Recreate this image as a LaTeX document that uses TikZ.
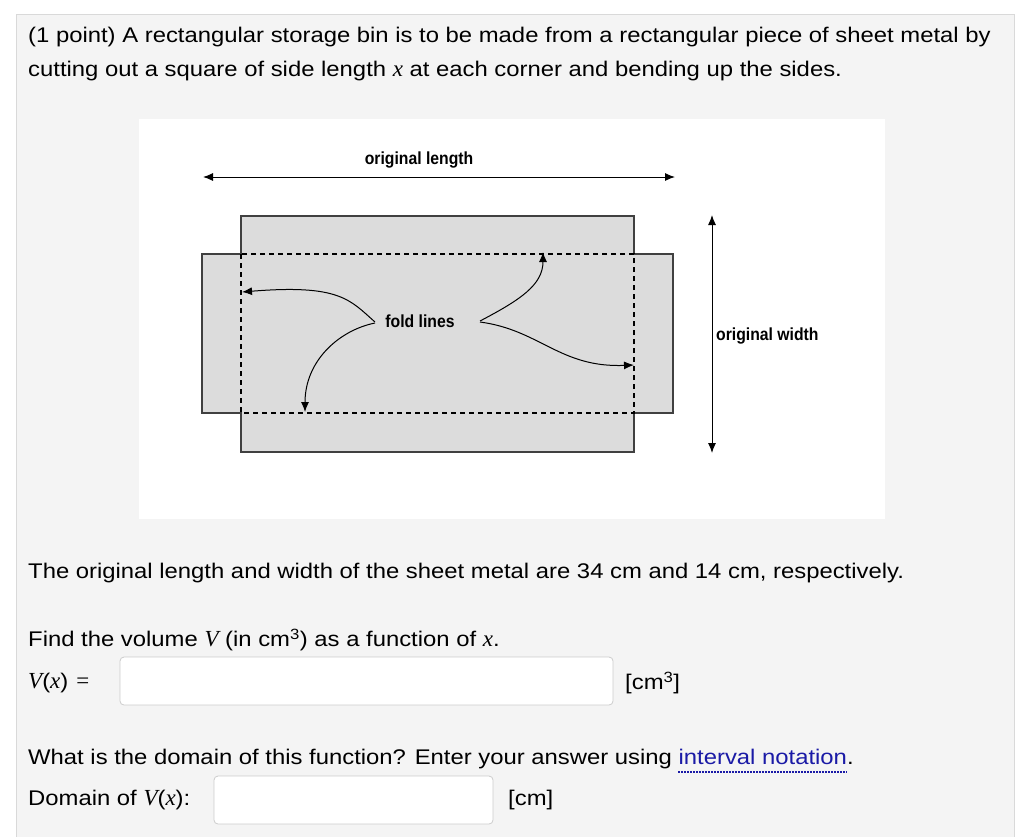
\documentclass[tikz,border=0pt]{standalone}
\usepackage{fontspec}
\setmainfont[FakeStretch=1.125]{Liberation Sans}
\newfontfamily\mathserif{Liberation Serif}
\usetikzlibrary{arrows.meta}
\definecolor{panel}{HTML}{F4F4F4}
\definecolor{sheet}{HTML}{DCDCDC}
\definecolor{linkblue}{HTML}{1A1AA6}
\newcommand{\mv}[1]{{\mathserif\itshape\fontsize{23}{24}\selectfont #1}}
\newcommand{\cubed}{\textsuperscript{3}}
\tikzset{
  txt/.style={anchor=west,inner sep=0pt,font=\fontsize{21.2}{24}\selectfont},
  lbl/.style={inner sep=0pt,font=\fontsize{17.5}{18}\selectfont\bfseries\addfontfeature{FakeStretch=0.9}},
  ibox/.style={draw=black!20,fill=white,rounded corners=4pt,line width=0.8pt},
  arr/.style={-{Latex[length=10pt,width=8pt]},line width=1pt},
  darr/.style={{Latex[length=10pt,width=8pt]}-{Latex[length=10pt,width=8pt]},line width=1pt}
}
\begin{document}
\begin{tikzpicture}[x=1pt,y=-1pt]
\useasboundingbox (0,0) rectangle (1024,836);
\fill[white] (0,0) rectangle (1024,836);
\draw[black!15,fill=panel] (16,14) rectangle (1014,840);
\node[txt] (t1) at (28,37) {(1 point) A rectangular storage bin is to be made from a rectangular piece of sheet metal by};
\node[txt] (t2) at (28,71) {cutting out a square of side length \mv{x} at each corner and bending up the sides.};
% diagram
\fill[white] (139,119) rectangle (885,519);
\filldraw[fill=sheet,draw=black!75,line width=1.2pt] (241,216) -- (634,216) -- (634,254) -- (673,254) -- (673,413) -- (634,413) -- (634,452) -- (241,452) -- (241,413) -- (202,413) -- (202,254) -- (241,254) -- cycle;
\draw[line width=1.1pt,dash pattern=on 5pt off 4pt] (241,254) rectangle (634,413);
\node[lbl] (ol) at (419,160) {original length};
\coordinate (la) at (203,177); \coordinate (lb) at (675,177);
\draw[darr] (la) -- (lb);
\coordinate (wa) at (712,215); \coordinate (wb) at (712,453);
\draw[darr] (wa) -- (wb);
\node[lbl,anchor=west] (ow) at (716,336) {original width};
\node[lbl] (fl) at (420,321) {fold lines};
\coordinate (f1) at (242,292); \coordinate (f2) at (305,412);
\coordinate (f3) at (543,252); \coordinate (f4) at (634,365);
\draw[arr] (375,322) .. controls (350,300) and (340,284) .. (f1);
\draw[arr] (375,323) .. controls (340,330) and (305,360) .. (f2);
\draw[arr] (480,321) .. controls (520,300) and (543,285) .. (f3);
\draw[arr] (480,322) .. controls (540,330) and (560,368) .. (f4);
% text below
\node[txt] (t3) at (28,573) {The original length and width of the sheet metal are 34 cm and 14 cm, respectively.};
\node[txt] (t4) at (28,640) {Find the volume \mv{V} (in cm\cubed) as a function of \mv{x}.};
\node[txt] (t5) at (28,683) {\mv{V}(\mv{x}) \mv{=}};
\draw[ibox] (120,657) rectangle (613,705);
\node[txt] (u1) at (625,683) {[cm\cubed]};
\node[txt] (t6) at (28,759) {What is the domain of this function? Enter your answer using \textcolor{linkblue}{interval notation}.};
\draw[linkblue,line width=1.2pt,dash pattern=on 1.5pt off 1.5pt] (678,772) -- (847,772);
\node[txt] (t7) at (28,800) {Domain of \mv{V}(\mv{x}):};
\draw[ibox] (214,776) rectangle (493,824);
\node[txt] (u2) at (508,800) {[cm]};
\end{tikzpicture}
\end{document}
